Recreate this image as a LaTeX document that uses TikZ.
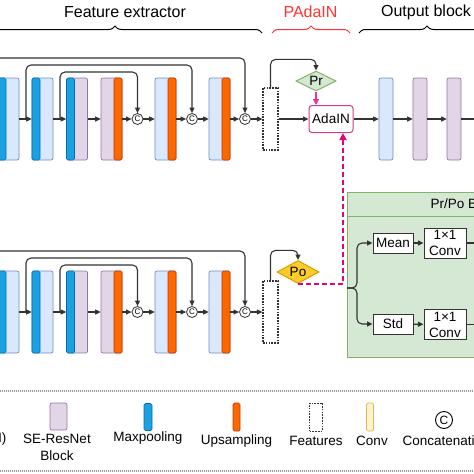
\documentclass[tikz,border=0pt]{standalone}
\usepackage{fontspec}
\setmainfont{Liberation Sans}
\usetikzlibrary{shapes.geometric,arrows.meta,decorations.pathreplacing}
\definecolor{lblue}{HTML}{DAE8FC}
\definecolor{lbluedr}{HTML}{6C8EBF}
\definecolor{lpurp}{HTML}{E1D5E7}
\definecolor{lpurpdr}{HTML}{9673A6}
\definecolor{mpool}{HTML}{1BA1E2}
\definecolor{mpooldr}{HTML}{006EAF}
\definecolor{usamp}{HTML}{FA6800}
\definecolor{usampdr}{HTML}{C73500}
\definecolor{lgreen}{HTML}{D5E8D4}
\definecolor{lgreendr}{HTML}{82B366}
\definecolor{pogold}{HTML}{FFCD28}
\definecolor{pogolddr}{HTML}{D79B00}
\definecolor{lconv}{HTML}{FFF2CC}
\definecolor{lconvdr}{HTML}{D6B656}
\definecolor{adared}{HTML}{FF3333}
\definecolor{adapink}{HTML}{E6007E}
\definecolor{adabox}{HTML}{CC3D8F}
\definecolor{linegray}{HTML}{333333}
\newcommand{\smallfs}{\fontsize{13.5}{16}\selectfont}
\newcommand{\headfs}{\fontsize{16}{18}\selectfont}
\begin{document}
\begin{tikzpicture}[x=1pt,y=-1pt,font=\smallfs,
  blk/.style={rectangle,rounded corners=2pt,minimum width=21pt,minimum height=82pt,inner sep=0pt,line width=0.7pt},
  lb/.style={blk,fill=lblue,draw=lbluedr},
  pu/.style={blk,fill=lpurp,draw=lpurpdr},
  strip/.style={rectangle,rounded corners=1.5pt,minimum width=8pt,minimum height=82pt,inner sep=0pt,line width=0.7pt},
  mp/.style={strip,fill=mpool,draw=mpooldr,anchor=west},
  us/.style={strip,fill=usamp,draw=usampdr,anchor=east},
  cat/.style={circle,draw=linegray,fill=white,line width=0.8pt,minimum size=11pt,inner sep=0pt,font=\fontsize{8}{8}\selectfont},
  featbox/.style={rectangle,draw=linegray,dash pattern=on 1.6pt off 1.2pt,line width=1.2pt,minimum width=15pt,minimum height=62pt,inner sep=0pt},
  arr/.style={draw=linegray,line width=1.1pt,-{Triangle[length=5.5pt,width=5pt]}},
  skip/.style={arr,rounded corners=5pt},
  plain/.style={draw=linegray,line width=1.1pt},
  opbox/.style={rectangle,draw=linegray,fill=white,line width=1pt,minimum width=40pt,minimum height=20pt,inner sep=0pt},
  brc/.style={decorate,decoration={brace,amplitude=7pt},line width=1pt},
  legline/.style={draw=black!40,line width=1.2pt,dash pattern=on 1pt off 1pt}]
  \useasboundingbox (0,0) rectangle (474,474);
  \clip (0,0) rectangle (474,474);
  \node[font=\headfs] (hfe) at (125,12) {Feature extractor};
  \node[font=\headfs,text=adared] (hpa) at (310.5,12) {PAdaIN};
  \node[font=\headfs] (hob) at (426,12) {Output block};
  \draw[brc] (-32,33) -- (262,33);
  \draw[brc,draw=adared] (272,33) -- (350,33);
  \draw[brc] (359,33) -- (495,33);
  \foreach \r/\dy in {t/0,b/193}{
    \begin{scope}[shift={(0,\dy)}]
      \foreach \n/\x/\st/\sp/\sd in {b1/8.5/lb/mp/west,b2/42.5/lb/mp/west,b3/77/pu/mp/west,
          b4/111.5/pu/us/east,b5/165.5/lb/us/east,b6/219.5/lb/us/east}{
        \node[\st] (\r\n) at (\x,119) {};
        \node[\sp] (\r\n s) at (\r\n.\sd) {};
      }
      \node[cat] (\r c1) at (137.5,119) {C};
      \node[cat] (\r c2) at (192,119) {C};
      \node[cat] (\r c3) at (245,119) {C};
      \node[featbox] (\r ft) at (270.5,119) {};
      \foreach \u/\v in {b1/b2,b2/b3,b3/b4,b4/c1,c1/b5,b5/c2,c2/b6,b6/c3,c3/ft}
        \draw[arr] (\r\u) -- (\r\v);
      \coordinate (\r s0) at (-20,58);
      \coordinate (\r s1) at (26,119);
      \coordinate (\r s2) at (60,119);
      \draw[skip] (\r s1) -- ++(0,-54) -| (\r c2);
      \draw[skip] (\r s2) -- ++(0,-47) -| (\r c1);
      \draw[skip] (\r s0) -| (\r c3);
    \end{scope}
  }
  \node[diamond,aspect=2,fill=lgreen,draw=lgreendr,line width=1pt,minimum width=40pt,minimum height=20pt,inner sep=0pt] (pr) at (316,81) {Pr};
  \node[rectangle,rounded corners=3pt,draw=adabox,fill=white,line width=1pt,minimum width=44pt,minimum height=27pt,inner sep=0pt] (ada) at (331,119) {AdaIN};
  \draw[skip] (tft.north) -- ++(0,-28) -| (pr.north);
  \draw[draw=adapink!80!white,line width=1.5pt,-{Triangle[length=6pt,width=6pt]}] (pr.south) -- (pr.south |- ada.north);
  \draw[arr] (tft) -- (ada);
  \node[lb,minimum width=14pt] (o1) at (386,119) {};
  \node[pu,minimum width=14pt] (o2) at (420,119) {};
  \node[pu,minimum width=14pt] (o3) at (454,119) {};
  \coordinate (oend) at (490,119);
  \foreach \u/\v in {ada/o1,o1/o2,o2/o3}
    \draw[arr] (\u) -- (\v);
  \draw[plain] (o3) -- (oend);
  \node[diamond,aspect=2,fill=pogold,draw=pogolddr,line width=1pt,minimum width=42pt,minimum height=23pt,inner sep=0pt] (po) at (298,272) {Po};
  \draw[skip] (bft.north) -- ++(0,-30) -| (po.north);
  \draw[draw=adapink,line width=2pt,dash pattern=on 5pt off 3pt,-{Triangle[length=7pt,width=7pt]}] (po.south) -| ([xshift=12pt]ada.south);
  \node[rectangle,fill=lgreen,draw=lgreendr,line width=1pt,minimum width=238pt,minimum height=165pt] (ppb) at (466,274.5) {};
  \draw[draw=lgreendr,line width=1pt] (347,216) -- (585,216);
  \node (ppt) at (466,204) {Pr/Po Block};
  \coordinate (pin) at (347,288);
  \node[opbox] (mean) at (393,243) {Mean};
  \node[opbox] (std) at (393,324) {Std};
  \node[opbox,minimum width=42pt,minimum height=30pt,align=center] (cv1) at (445,243) {1×1\\Conv};
  \node[opbox,minimum width=42pt,minimum height=30pt,align=center] (cv2) at (445,324.5) {1×1\\Conv};
  \draw[skip] (pin) -- ++(10,0) |- (mean);
  \draw[skip] (pin) -- ++(10,0) |- (std);
  \draw[arr] (mean) -- (cv1);
  \draw[arr] (std) -- (cv2);
  \coordinate (cv1o) at (490,243);
  \coordinate (cv2o) at (490,324.5);
  \draw[plain] (cv1) -- (cv1o);
  \draw[plain] (cv2) -- (cv2o);
  \draw[legline] (0,391) -- (474,391);
  \draw[legline] (0,471) -- (474,471);
  \node[anchor=east] (tin) at (10,439) {N)};
  \node[pu,minimum width=17pt,minimum height=27pt] (lgse) at (58.5,416.5) {};
  \node[mp,anchor=center,minimum height=27pt] (lgmp) at (148,417) {};
  \node[us,anchor=center,minimum width=7pt,minimum height=28pt] (lgus) at (236.5,417) {};
  \node[featbox,minimum width=13pt,minimum height=28pt,line width=1pt] (lgft) at (316,417) {};
  \node[strip,fill=lconv,draw=lconvdr,minimum width=7pt,minimum height=28pt] (lgcv) at (370,417) {};
  \node[circle,draw=black,line width=0.9pt,minimum size=17pt,inner sep=0pt,font=\fontsize{12}{12}\selectfont] (lgct) at (444,420) {C};
  \node[align=center,font=\fontsize{13.5}{17}\selectfont] (tse) at (57,447.5) {SE-ResNet\\Block};
  \node (tmp) at (148,438) {Maxpooling};
  \node (tus) at (236.5,441) {Upsampling};
  \node (tfe) at (316,441) {Features};
  \node (tcv) at (372,441) {Conv};
  \node[anchor=west] (tct) at (399,441) {Concatenation};
\end{tikzpicture}
\end{document}
